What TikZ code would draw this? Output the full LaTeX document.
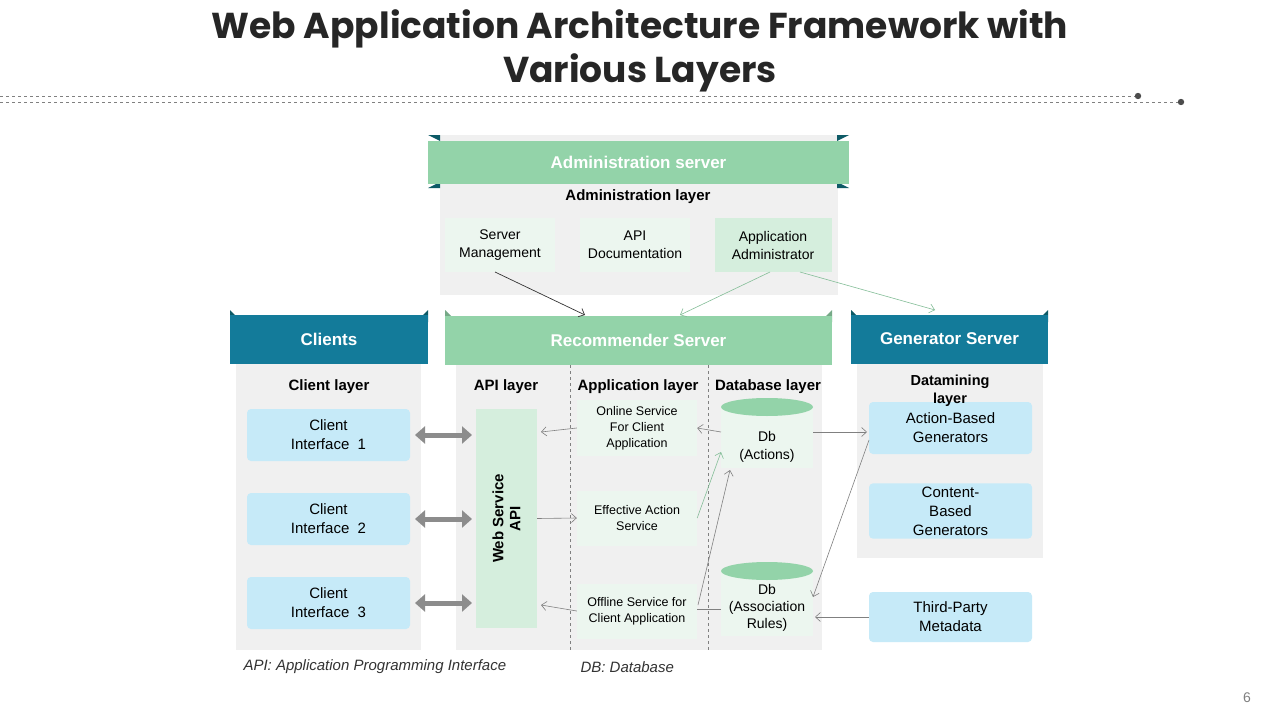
\documentclass[tikz,border=0pt]{standalone}
\usepackage{fontspec}
\setmainfont{Liberation Sans}
\newfontfamily\ttl{Poppins}
\usetikzlibrary{arrows.meta,shapes.geometric}
\definecolor{grn}{HTML}{93D3A9}
\definecolor{lgrn}{HTML}{D5EEDD}
\definecolor{pgrn}{HTML}{ECF6EF}
\definecolor{teal}{HTML}{137B9A}
\definecolor{dteal}{HTML}{0D5A66}
\definecolor{lblue}{HTML}{C6EAF8}
\definecolor{bg}{HTML}{F0F0F0}
\tikzset{
 panel/.style={fill=bg,draw=none},
 hdr/.style={draw=none,font=\bfseries\fontsize{17}{19}\selectfont,text=white},
 lay/.style={font=\bfseries\fontsize{15}{16}\selectfont},
 box/.style={fill=pgrn,align=center,font=\fontsize{14}{18}\selectfont},
 cbox/.style={fill=lblue,rounded corners=4pt,align=center,font=\fontsize{15}{19}\selectfont},
 abox/.style={fill=pgrn,align=center,font=\fontsize{12.5}{16}\selectfont},
 arr/.style={draw=gray,-{Straight Barb[length=5pt,width=9pt]},line width=0.6pt},
 dbl/.style={draw=gray!90,line width=5pt,{Triangle[length=10pt,width=17pt]}-{Triangle[length=10pt,width=17pt]}}
}
\begin{document}
\begin{tikzpicture}[x=1pt,y=-1pt]
\useasboundingbox[fill=white] (0,0) rectangle (1280,720);
% title
\node[font=\ttl\bfseries\fontsize{36}{44}\selectfont,text=black!85,align=center] (title) at (640,51) {Web Application Architecture Framework with\\Various Layers};
\draw[gray,dashed,line width=0.7pt] (0,96) -- (1138,96);
\draw[gray,dashed,line width=0.7pt] (0,102) -- (1180,102);
\fill[black!70] (1138,96) circle (3.2);
\fill[black!70] (1181,102) circle (3.2);
% admin
\fill[bg] (440,135) rectangle (838,295);
\fill[dteal] (428,135) -- (440,135) -- (440,141) -- cycle;
\fill[dteal] (849,135) -- (837,135) -- (837,141) -- cycle;
\fill[dteal] (428,188) -- (440,188) -- (440,182) -- cycle;
\fill[dteal] (849,188) -- (837,188) -- (837,182) -- cycle;
\node[hdr,fill=grn,minimum width=421,minimum height=43] (adm) at (638.5,162) {Administration server};
\node[lay] (adml) at (638,197) {Administration layer};
\node[box,minimum width=110,minimum height=54] (sm) at (500,245) {Server\\Management};
\node[box,minimum width=110,minimum height=54] (apid) at (635,245) {API\\Documentation};
\node[box,fill=lgrn,minimum width=117,minimum height=54] (aa) at (773,245) {Application\\Administrator};
% clients
\fill[bg] (236,362) rectangle (421,650);
\fill[dteal] (230,310) -- (236,316) -- (230,322) -- cycle;
\fill[dteal] (428,310) -- (422,316) -- (428,322) -- cycle;
\node[hdr,fill=teal,minimum width=198,minimum height=49] (cl) at (329,339) {Clients};
\node[lay] (cll) at (329,387) {Client layer};
\node[cbox,minimum width=163,minimum height=52] (c1) at (328.5,435) {Client\\Interface\ \ 1};
\node[cbox,minimum width=163,minimum height=52] (c2) at (328.5,519) {Client\\Interface\ \ 2};
\node[cbox,minimum width=163,minimum height=52] (c3) at (328.5,603) {Client\\Interface\ \ 3};
% recommender
\fill[bg] (456,362) rectangle (822,650);
\fill[grn!80!black] (445,310) -- (451,316) -- (445,322) -- cycle;
\fill[grn!80!black] (832,310) -- (826,316) -- (832,322) -- cycle;
\node[hdr,fill=grn,minimum width=387,minimum height=49] (rs) at (638.5,340) {Recommender Server};
\draw[dashed,gray] (570,365) -- (570,650);
\draw[dashed,gray] (708,365) -- (708,650);
\node[lay] (apil) at (506,387) {API layer};
\node[lay] (appl) at (638,387) {Application layer};
\node[lay] (dbl) at (768,387) {Database layer};
\node[fill=lgrn,minimum width=61,minimum height=219] (ws) at (506.5,518.5) {};
\node[rotate=90,align=center,font=\bfseries\fontsize{15}{17}\selectfont] (wst) at (ws.center) {Web Service\\API};
\node[abox,minimum width=120,minimum height=56] (on) at (637,428) {Online Service\\For Client\\Application};
\node[abox,minimum width=120,minimum height=55] (ef) at (637,518) {Effective Action\\Service};
\node[abox,minimum width=120,minimum height=55] (of) at (637,611) {Offline Service for\\Client Application};
% db
\fill[pgrn] (721,407) rectangle (813,468);
\fill[grn] (767,407) ellipse (46 and 9);
\node[align=center,font=\fontsize{14}{18}\selectfont] (db1) at (767,447) {Db\\(Actions)};
\fill[pgrn] (721,571) rectangle (813,636);
\fill[grn] (767,571) ellipse (46 and 9);
\node[align=center,font=\fontsize{14}{17}\selectfont] (db2) at (767,608) {Db\\(Association\\Rules)};
\coordinate (db1w) at (721,432);
\coordinate (db1e) at (813,432);
\coordinate (db1b) at (730,470);
\coordinate (db1g) at (721,452);
\coordinate (db2n) at (813,597);
\coordinate (db2e) at (815,617);
\coordinate (db2w) at (721,609);
% generator
\fill[bg] (857,362) rectangle (1043,558);
\fill[dteal] (851,310) -- (857,316) -- (851,322) -- cycle;
\fill[dteal] (1048,310) -- (1042,316) -- (1048,322) -- cycle;
\node[hdr,fill=teal,minimum width=197,minimum height=49] (gs) at (949.5,339) {Generator Server};
\node[cbox,minimum width=163,minimum height=52] (ab) at (950.5,428) {Action-Based\\Generators};
\node[cbox,minimum width=163,minimum height=52] (cb) at (950.5,511) {Content-\\Based\\Generators};
\node[cbox,minimum width=163,minimum height=50] (tp) at (950.5,617) {Third-Party\\Metadata};
\node[lay,align=center,font=\bfseries\fontsize{14.5}{18}\selectfont] (dml) at (950,391) {Datamining\\layer};
% arrows
\draw[-{Straight Barb[length=5pt,width=9pt]},black!80,line width=0.7pt] (495,272) -- (585,315);
\draw[arr,draw=grn!90!black] (770,272) -- (680,315);
\draw[arr,draw=grn!90!black] (800,272) -- (935,310);
\draw[dbl] (415,435) -- (472,435);
\draw[dbl] (415,519) -- (472,519);
\draw[dbl] (415,603) -- (472,603);
\draw[arr] (db1w) -- (on.east);
\draw[arr] (on.west) -- (541,432);
\draw[arr] (ws.east) -- (ef.west);
\draw[arr,draw=grn!90!black] (ef.east) -- (db1g);
\draw[arr] (698,605) -- (db1b);
\draw[gray,line width=0.6pt] (db2w) -- (697,609);
\draw[arr] (of.west) -- (541,605);
\draw[arr] (db1e) -- (867,432);
\draw[arr] (869,440) -- (db2n);
\draw[arr] (tp.west) -- (db2e);
% notes
\node[anchor=west,font=\itshape\fontsize{15}{17}\selectfont,text=black!80] (n1) at (240,667) {API: Application Programming Interface};
\node[anchor=west,font=\itshape\fontsize{15}{17}\selectfont,text=black!80] (n2) at (577,667) {DB: Database};
\node[font=\fontsize{14}{16}\selectfont,text=gray] (pg) at (1247,698) {6};
\end{tikzpicture}
\end{document}
